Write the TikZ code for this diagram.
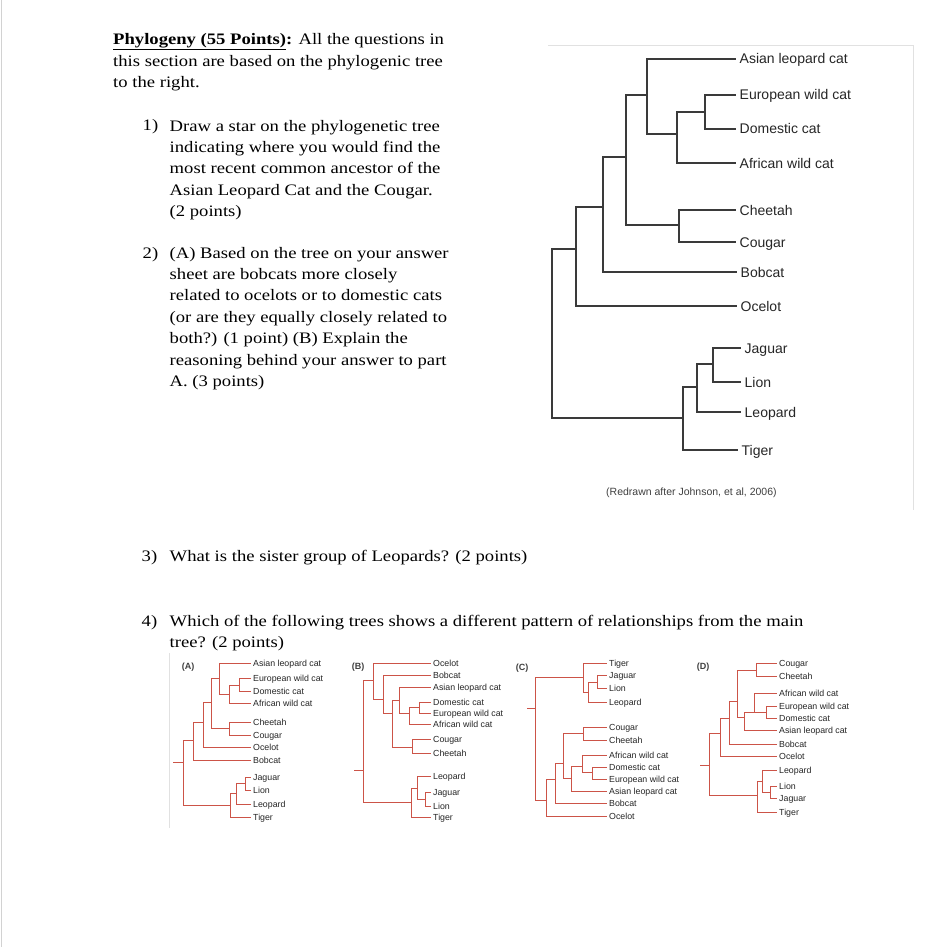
\documentclass[tikz,border=0pt]{standalone}
\usepackage{fontspec}
\setmainfont{Liberation Serif}[FakeStretch=1.165]
\setsansfont{Liberation Sans}
\usepackage{tikz}

\definecolor{branch}{RGB}{58,58,58}
\definecolor{redbranch}{RGB}{204,84,72}
\definecolor{edge}{RGB}{225,225,225}

\tikzset{
  txt/.style={font=\fontsize{16}{21.4}\selectfont, align=left, inner sep=0pt, anchor=base west},
  leaf/.style={font=\sffamily\fontsize{14}{14}\selectfont, anchor=west, inner xsep=3.5pt, inner ysep=0pt, text height=10pt, text depth=0pt, text=black!85},
  sleaf/.style={font=\sffamily\fontsize{8.8}{8.8}\selectfont, anchor=west, inner xsep=2pt, inner ysep=0pt, text height=6.3pt, text depth=0pt, text=black!85},
  tag/.style={font=\sffamily\bfseries\fontsize{9}{9}\selectfont, text=black!75},
  tree/.style={draw=branch, line width=1.6pt},
  redtree/.style={draw=redbranch, line width=1pt},
}

\begin{document}
\begin{tikzpicture}[x=1pt,y=-1pt]
\useasboundingbox (0,0) rectangle (925,947);
\fill[white] (0,0) rectangle (925,947);

% page edge and picture frames
\draw[gray!35, line width=1pt] (1.5,0) -- (1.5,947);
\draw[edge, line width=0.8pt] (548,45) -- (913,45) -- (913,510);
\draw[edge, line width=0.8pt] (169,653) -- (169,828);

% text on the left (base = last line)
\node[txt] (head) at (113,87.5) {\textbf{\underline{Phylogeny (55 Points)}:} All the questions in\\this section are based on the phylogenic tree\\to the right.};
\node[txt] (q1num) at (142.5,131) {1)};
\node[txt] (q1) at (169.5,216.6) {Draw a star on the phylogenetic tree\\indicating where you would find the\\most recent common ancestor of the\\Asian Leopard Cat and the Cougar.\\(2 points)};
\node[txt] (q2num) at (142.5,258) {2)};
\node[txt] (q2) at (169.5,386.4) {(A) Based on the tree on your answer\\sheet are bobcats more closely\\related to ocelots or to domestic cats\\(or are they equally closely related to\\both?) (1 point) (B) Explain the\\reasoning behind your answer to part\\A. (3 points)};
\node[txt] (q3num) at (141.5,561) {3)};
\node[txt] (q3) at (169.5,561) {What is the sister group of Leopards? (2 points)};
\node[txt] (q4num) at (141.5,626) {4)};
\node[txt] (q4) at (169.5,647.4) {Which of the following trees shows a different pattern of relationships from the main\\tree? (2 points)};

% main tree
\node[leaf] (asian) at (736,59) {Asian leopard cat};
\node[leaf] (euro) at (736,95) {European wild cat};
\node[leaf] (dom) at (736,129) {Domestic cat};
\node[leaf] (afr) at (736,163) {African wild cat};
\node[leaf] (cheet) at (736,210) {Cheetah};
\node[leaf] (coug) at (736,242) {Cougar};
\node[leaf] (bob) at (737,272) {Bobcat};
\node[leaf] (ocel) at (737,306) {Ocelot};
\node[leaf] (jag) at (741,348) {Jaguar};
\node[leaf] (lion) at (741,382) {Lion};
\node[leaf] (leop) at (741,412) {Leopard};
\node[leaf] (tig) at (738,450) {Tiger};

\coordinate (ed) at (705,112);
\coordinate (eda) at (677,134);
\coordinate (n1) at (647,95);
\coordinate (cc) at (679,225);
\coordinate (n4) at (626,157);
\coordinate (n5) at (603,207);
\coordinate (n6) at (576,249);
\coordinate (jl) at (713,364);
\coordinate (pl) at (697,387);
\coordinate (pan) at (683,418);
\coordinate (root) at (552,333);

\draw[tree] (ed) |- (euro) (ed) |- (dom)
  (eda) |- (ed) (eda) |- (afr)
  (n1) |- (asian) (n1) |- (eda)
  (cc) |- (cheet) (cc) |- (coug)
  (n4) |- (n1) (n4) |- (cc)
  (n5) |- (n4) (n5) |- (bob)
  (n6) |- (n5) (n6) |- (ocel)
  (jl) |- (jag) (jl) |- (lion)
  (pl) |- (jl) (pl) |- (leop)
  (pan) |- (pl) (pan) |- (tig)
  (root) |- (n6) (root) |- (pan);

\node[font=\sffamily\fontsize{10.5}{10.5}\selectfont, text=black!75, anchor=west, inner sep=0pt] (credit) at (606,493) {(Redrawn after Johnson, et al, 2006)};

% tree A
\node[tag] (labA) at (188,667) {(A)};
\node[sleaf] (a-asian) at (251,663) {Asian leopard cat};
\node[sleaf] (a-euro) at (251,678) {European wild cat};
\node[sleaf] (a-dom) at (251,691) {Domestic cat};
\node[sleaf] (a-afr) at (251,703) {African wild cat};
\node[sleaf] (a-cheet) at (251,722) {Cheetah};
\node[sleaf] (a-coug) at (251,735) {Cougar};
\node[sleaf] (a-ocel) at (251,747) {Ocelot};
\node[sleaf] (a-bob) at (251,760) {Bobcat};
\node[sleaf] (a-jag) at (251,777) {Jaguar};
\node[sleaf] (a-lion) at (251,790) {Lion};
\node[sleaf] (a-leop) at (251,804) {Leopard};
\node[sleaf] (a-tig) at (251,817) {Tiger};
\coordinate (a-ed) at (239,685);
\coordinate (a-eda) at (229,694);
\coordinate (a-n1) at (219,678);
\coordinate (a-cc) at (229,728);
\coordinate (a-n4) at (211,702);
\coordinate (a-n5) at (203,722);
\coordinate (a-n6) at (193,740);
\coordinate (a-jl) at (245,783);
\coordinate (a-pl) at (236,793);
\coordinate (a-pan) at (230,805);
\coordinate (a-root) at (183,762);
\coordinate (a-stem) at (173,762);
\draw[redtree] (a-ed) |- (a-euro) (a-ed) |- (a-dom)
  (a-eda) |- (a-ed) (a-eda) |- (a-afr)
  (a-n1) |- (a-asian) (a-n1) |- (a-eda)
  (a-cc) |- (a-cheet) (a-cc) |- (a-coug)
  (a-n4) |- (a-n1) (a-n4) |- (a-cc)
  (a-n5) |- (a-n4) (a-n5) |- (a-ocel)
  (a-n6) |- (a-n5) (a-n6) |- (a-bob)
  (a-jl) |- (a-jag) (a-jl) |- (a-lion)
  (a-pl) |- (a-jl) (a-pl) |- (a-leop)
  (a-pan) |- (a-pl) (a-pan) |- (a-tig)
  (a-root) |- (a-n6) (a-root) |- (a-pan)
  (a-stem) -- (a-root);

% tree B
\node[tag] (labB) at (358,667) {(B)};
\node[sleaf] (b-ocel) at (431,663) {Ocelot};
\node[sleaf] (b-bob) at (431,675) {Bobcat};
\node[sleaf] (b-asian) at (431,687) {Asian leopard cat};
\node[sleaf] (b-dom) at (431,702) {Domestic cat};
\node[sleaf] (b-euro) at (431,713) {European wild cat};
\node[sleaf] (b-afr) at (431,724) {African wild cat};
\node[sleaf] (b-coug) at (431,739) {Cougar};
\node[sleaf] (b-cheet) at (431,753) {Cheetah};
\node[sleaf] (b-leop) at (431,776) {Leopard};
\node[sleaf] (b-jag) at (431,792) {Jaguar};
\node[sleaf] (b-lion) at (431,806) {Lion};
\node[sleaf] (b-tig) at (431,817) {Tiger};
\coordinate (b-de) at (419,707);
\coordinate (b-eda) at (409,713);
\coordinate (b-n1) at (399,700);
\coordinate (b-cc) at (412,747);
\coordinate (b-n4) at (392,713);
\coordinate (b-n5) at (383,699);
\coordinate (b-n6) at (373,680);
\coordinate (b-jl) at (425,799);
\coordinate (b-pl) at (417,788);
\coordinate (b-pan) at (411,802);
\coordinate (b-root) at (363,770);
\coordinate (b-stem) at (354,770);
\draw[redtree] (b-de) |- (b-dom) (b-de) |- (b-euro)
  (b-eda) |- (b-de) (b-eda) |- (b-afr)
  (b-n1) |- (b-asian) (b-n1) |- (b-eda)
  (b-cc) |- (b-coug) (b-cc) |- (b-cheet)
  (b-n4) |- (b-n1) (b-n4) |- (b-cc)
  (b-n5) |- (b-bob) (b-n5) |- (b-n4)
  (b-n6) |- (b-ocel) (b-n6) |- (b-n5)
  (b-jl) |- (b-jag) (b-jl) |- (b-lion)
  (b-pl) |- (b-leop) (b-pl) |- (b-jl)
  (b-pan) |- (b-pl) (b-pan) |- (b-tig)
  (b-root) |- (b-n6) (b-root) |- (b-pan)
  (b-stem) -- (b-root);

% tree C
\node[tag] (labC) at (522,668) {(C)};
\node[sleaf] (c-tig) at (607,663) {Tiger};
\node[sleaf] (c-jag) at (607,675) {Jaguar};
\node[sleaf] (c-lion) at (607,688) {Lion};
\node[sleaf] (c-leop) at (607,702) {Leopard};
\node[sleaf] (c-coug) at (607,727) {Cougar};
\node[sleaf] (c-cheet) at (607,740) {Cheetah};
\node[sleaf] (c-afr) at (607,755) {African wild cat};
\node[sleaf] (c-dom) at (607,767) {Domestic cat};
\node[sleaf] (c-euro) at (607,779) {European wild cat};
\node[sleaf] (c-asian) at (607,791) {Asian leopard cat};
\node[sleaf] (c-bob) at (607,803) {Bobcat};
\node[sleaf] (c-ocel) at (607,816) {Ocelot};
\coordinate (c-jl) at (597,682);
\coordinate (c-pl) at (588,692);
\coordinate (c-pan) at (583,677);
\coordinate (c-de) at (592,772);
\coordinate (c-eda) at (582,766);
\coordinate (c-n1) at (571,778);
\coordinate (c-cc) at (583,733);
\coordinate (c-n4) at (563,763);
\coordinate (c-n5) at (555,779);
\coordinate (c-n6) at (546,800);
\coordinate (c-root) at (535,708);
\coordinate (c-stem) at (527,708);
\draw[redtree] (c-jl) |- (c-jag) (c-jl) |- (c-lion)
  (c-pl) |- (c-jl) (c-pl) |- (c-leop)
  (c-pan) |- (c-tig) (c-pan) |- (c-pl)
  (c-de) |- (c-dom) (c-de) |- (c-euro)
  (c-eda) |- (c-afr) (c-eda) |- (c-de)
  (c-n1) |- (c-eda) (c-n1) |- (c-asian)
  (c-cc) |- (c-coug) (c-cc) |- (c-cheet)
  (c-n4) |- (c-cc) (c-n4) |- (c-n1)
  (c-n5) |- (c-n4) (c-n5) |- (c-bob)
  (c-n6) |- (c-n5) (c-n6) |- (c-ocel)
  (c-root) |- (c-pan) (c-root) |- (c-n6)
  (c-stem) -- (c-root);

% tree D
\node[tag] (labD) at (703,667) {(D)};
\node[sleaf] (d-coug) at (777,663) {Cougar};
\node[sleaf] (d-cheet) at (777,676) {Cheetah};
\node[sleaf] (d-afr) at (777,693) {African wild cat};
\node[sleaf] (d-euro) at (777,706) {European wild cat};
\node[sleaf] (d-dom) at (777,718) {Domestic cat};
\node[sleaf] (d-asian) at (777,730) {Asian leopard cat};
\node[sleaf] (d-bob) at (777,744) {Bobcat};
\node[sleaf] (d-ocel) at (777,756) {Ocelot};
\node[sleaf] (d-leop) at (777,770) {Leopard};
\node[sleaf] (d-lion) at (777,786) {Lion};
\node[sleaf] (d-jag) at (777,798) {Jaguar};
\node[sleaf] (d-tig) at (777,812) {Tiger};
\coordinate (d-cc) at (756,670);
\coordinate (d-ed) at (766,712);
\coordinate (d-eda) at (754,712);
\coordinate (d-n1) at (744,717);
\coordinate (d-n4) at (737,701);
\coordinate (d-n5) at (729,718);
\coordinate (d-n6) at (720,733);
\coordinate (d-jl) at (770,792);
\coordinate (d-pl) at (762,781);
\coordinate (d-pan) at (757,795);
\coordinate (d-root) at (709,765);
\coordinate (d-stem) at (700,765);
\draw[redtree] (d-cc) |- (d-coug) (d-cc) |- (d-cheet)
  (d-ed) |- (d-euro) (d-ed) |- (d-dom)
  (d-eda) |- (d-afr) (d-eda) |- (d-ed)
  (d-n1) |- (d-eda) (d-n1) |- (d-asian)
  (d-n4) |- (d-cc) (d-n4) |- (d-n1)
  (d-n5) |- (d-n4) (d-n5) |- (d-bob)
  (d-n6) |- (d-n5) (d-n6) |- (d-ocel)
  (d-jl) |- (d-lion) (d-jl) |- (d-jag)
  (d-pl) |- (d-leop) (d-pl) |- (d-jl)
  (d-pan) |- (d-pl) (d-pan) |- (d-tig)
  (d-root) |- (d-n6) (d-root) |- (d-pan)
  (d-stem) -- (d-root);

\end{tikzpicture}
\end{document}
